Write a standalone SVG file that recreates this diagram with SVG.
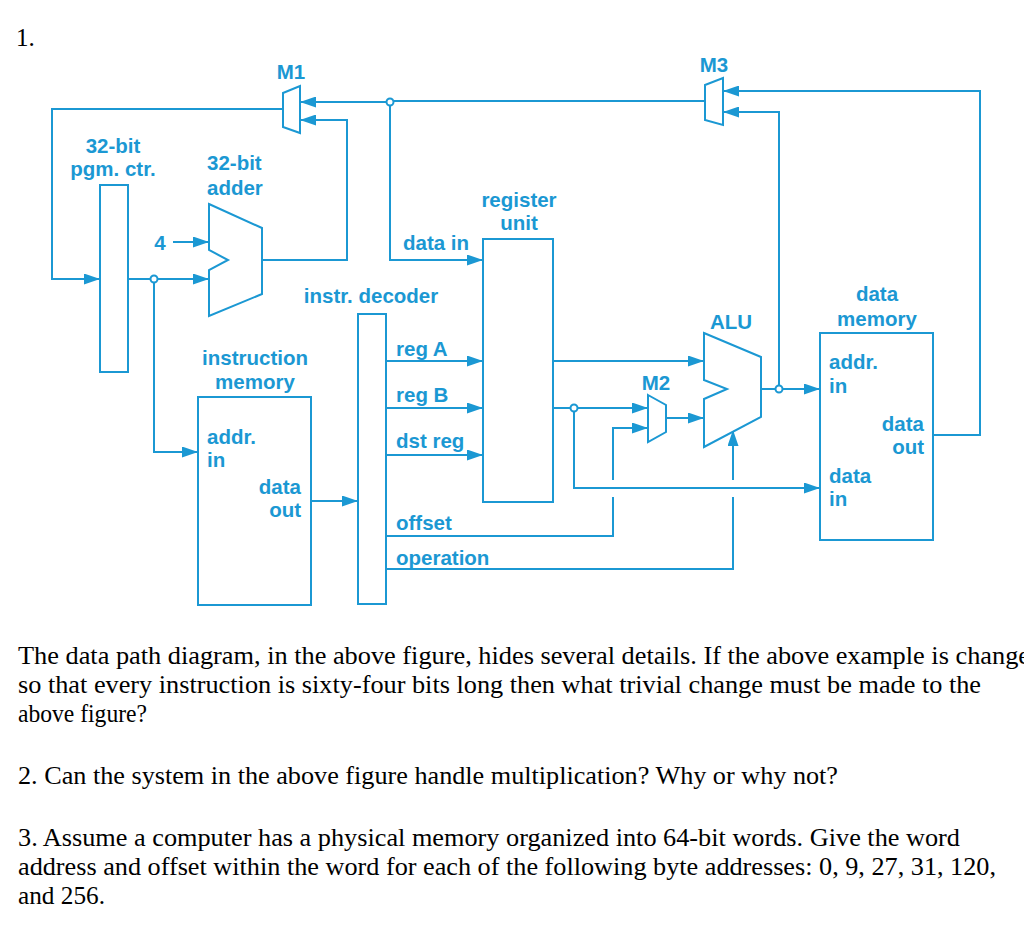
<svg xmlns="http://www.w3.org/2000/svg" width="1024" height="929" viewBox="0 0 1024 929">
<defs>
<marker id="ar" viewBox="0 0 10 10" refX="10" refY="5" markerWidth="16" markerHeight="11" markerUnits="userSpaceOnUse" orient="auto" preserveAspectRatio="none"><path d="M0,0 L10,5 L0,10 z" fill="#1b98d3"/></marker>
<style>
.l{fill:none;stroke:#1b98d3;stroke-width:2}
.a{fill:none;stroke:#1b98d3;stroke-width:2;marker-end:url(#ar)}
.b{fill:#fff;stroke:#1b98d3;stroke-width:2}
.j{fill:#fff;stroke:#1b98d3;stroke-width:2}
.t{font-family:"Liberation Sans",Arial,sans-serif;font-weight:bold;font-size:20.5px;fill:#1b98d3}
.m{text-anchor:middle}
.e{text-anchor:end}
.q{font-family:"Liberation Serif","Times New Roman",serif;font-size:25px;fill:#000}
</style>
</defs>
<rect width="1024" height="929" fill="#fff"/>
<text x="16" y="46" class="q">1.</text>
<g id="connectors">
<path class="a" d="M282,109 H52 V279 H100"/>
<path class="a" d="M705,101 H390 V102 H300"/>
<path class="a" d="M262,260 H347 V120 H300"/>
<path class="a" d="M390,102 V260 H483"/>
<path class="a" d="M173,242 H209"/>
<path class="a" d="M128,279 H209"/>
<path class="a" d="M154,279 V452 H198"/>
<path class="a" d="M311,501 H358"/>
<path class="a" d="M386,361 H483"/>
<path class="a" d="M386,408 H483"/>
<path class="a" d="M386,455 H483"/>
<path class="a" d="M553,361 H704"/>
<path class="a" d="M553,408 H648"/>
<path class="a" d="M666,418 H704"/>
<path class="a" d="M386,536 H613 V497 M613,480 V428 H648"/>
<path class="a" d="M574,408 V488 H820"/>
<path class="a" d="M386,569 H733 V497 M733,480 V430"/>
<path class="a" d="M761,389 H820"/>
<path class="a" d="M779,389 V112 H723"/>
<path class="a" d="M933,435 H980 V91 H723"/>
<circle class="j" cx="390" cy="102" r="3.5"/>
<circle class="j" cx="154" cy="279" r="3.5"/>
<circle class="j" cx="574" cy="408" r="3.5"/>
<circle class="j" cx="779" cy="389" r="3.5"/>
</g>
<g id="m1"><path class="b" d="M283,93 L300,86 V133 L283,127 Z"/><text x="291" y="79" class="t m">M1</text></g>
<g id="m3"><path class="b" d="M705,85 L723,78 V125 L705,120 Z"/><text x="714" y="72" class="t m">M3</text></g>
<g id="m2"><path class="b" d="M648,395 L666,405 V432 L648,442 Z"/><text x="656" y="390" class="t m">M2</text></g>
<g id="pc"><rect class="b" x="100" y="185" width="28" height="187"/><text x="113" y="153" class="t m">32-bit</text><text x="113" y="176" class="t m">pgm. ctr.</text></g>
<g id="adder"><path class="b" d="M209,204 L262,228 V294 L209,316 V270 L228,260 L209,250 Z"/><text x="207" y="170" class="t">32-bit</text><text x="207" y="195" class="t">adder</text><text x="160" y="250" class="t m">4</text></g>
<g id="regunit"><rect class="b" x="483" y="239" width="70" height="263"/><text x="519" y="207" class="t m">register</text><text x="519" y="230" class="t m">unit</text><text x="403" y="250" class="t">data in</text></g>
<g id="decoder"><rect class="b" x="358" y="314" width="28" height="290"/><text x="371" y="303" class="t m">instr. decoder</text>
<text x="396" y="356" class="t">reg A</text><text x="396" y="402" class="t">reg B</text><text x="396" y="448" class="t">dst reg</text><text x="396" y="530" class="t">offset</text><text x="396" y="565" class="t">operation</text></g>
<g id="imem"><rect class="b" x="198" y="397" width="113" height="208"/><text x="255" y="365" class="t m">instruction</text><text x="255" y="389" class="t m">memory</text>
<text x="207" y="444" class="t">addr.</text><text x="207" y="467" class="t">in</text><text x="301" y="494" class="t e">data</text><text x="301" y="517" class="t e">out</text></g>
<g id="alu"><path class="b" d="M704,333 L761,357 V417 L704,447 V399 L727,389 L704,380 Z"/><text x="731" y="329" class="t m">ALU</text></g>
<g id="dmem"><rect class="b" x="820" y="333" width="113" height="207"/><text x="877" y="301" class="t m">data</text><text x="877" y="326" class="t m">memory</text>
<text x="829" y="369" class="t">addr.</text><text x="829" y="393" class="t">in</text><text x="924" y="431" class="t e">data</text><text x="924" y="454" class="t e">out</text><text x="829" y="483" class="t">data</text><text x="829" y="506" class="t">in</text></g>
<g id="question">
<text x="18" y="664" class="q" textLength="1012" lengthAdjust="spacingAndGlyphs">The data path diagram, in the above figure, hides several details. If the above example is change</text>
<text x="18" y="693" class="q" textLength="963" lengthAdjust="spacingAndGlyphs">so that every instruction is sixty-four bits long then what trivial change must be made to the</text>
<text x="18" y="722" class="q" textLength="129" lengthAdjust="spacingAndGlyphs">above figure?</text>
<text x="18" y="784" class="q" textLength="820" lengthAdjust="spacingAndGlyphs">2. Can the system in the above figure handle multiplication? Why or why not?</text>
<text x="18" y="846" class="q" textLength="942" lengthAdjust="spacingAndGlyphs">3. Assume a computer has a physical memory organized into 64-bit words. Give the word</text>
<text x="18" y="875" class="q" textLength="978" lengthAdjust="spacingAndGlyphs">address and offset within the word for each of the following byte addresses: 0, 9, 27, 31, 120,</text>
<text x="18" y="904" class="q" textLength="87" lengthAdjust="spacingAndGlyphs">and 256.</text>
</g>
</svg>
